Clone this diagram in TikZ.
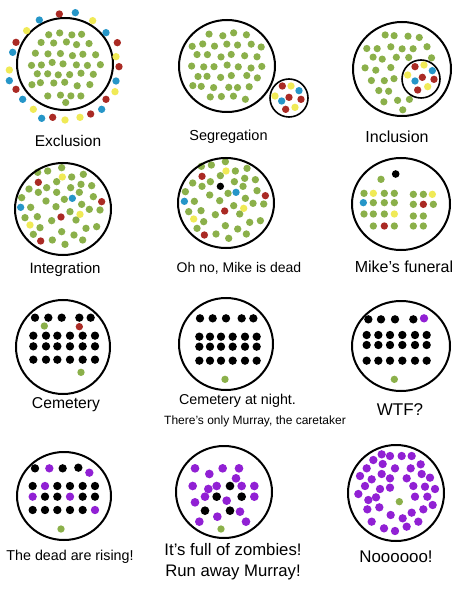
\documentclass[tikz,border=0pt]{standalone}
\usepackage{fontspec}
\setmainfont{Liberation Sans}
\definecolor{gr}{RGB}{139,176,74}
\definecolor{rd}{RGB}{170,42,36}
\definecolor{bl}{RGB}{38,150,200}
\definecolor{yl}{RGB}{240,234,86}
\definecolor{pu}{RGB}{145,32,212}
\newcommand\gfield[8]{%
 \pgfmathsetseed{#4}%
 \foreach \i in {-5,...,5}{\foreach \j in {-5,...,5}{%
   \pgfmathsetmacro\px{\i*#5+mod(\j+10,2)*#5/2+2*rand}%
   \pgfmathsetmacro\py{\j*#5*0.87+2*rand}%
   \pgfmathsetmacro\da{(\px*\px+\py*\py)/100}%
   \pgfmathsetmacro\ex{(\px+#1-#6)/10}%
   \pgfmathsetmacro\ey{(\py+#2-#7)/10}%
   \pgfmathsetmacro\db{\ex*\ex+\ey*\ey}%
   \pgfmathtruncatemacro\ok{((\da<(#3/10)*(#3/10))&&(\db>(#8/10)*(#8/10)))?1:0}%
   \ifnum\ok=1 \fill[gr] (#1+\px,#2+\py) circle (3.6);\fi
 }}}
\newcommand\integdots{%
 \foreach \x/\y in {185/38,143/48,113/52,215/66,250/58,170/80,243/88,87/102,140/98,212/98,275/92,115/112,238/112,65/128,138/138,193/133,280/125,245/148,92/157,168/155,210/170,268/163,300/165,75/188,112/185,155/197,228/195,120/218,258/220,290/215,100/238,185/230,222/240,157/255,195/268,248/255}
   \fill[gr] (\x,\y) circle (11);
 \foreach \x/\y in {115/82,305/140,183/186,122/258} \fill[rd] (\x,\y) circle (11);
 \foreach \x/\y in {217/130,62/157} \fill[bl] (\x,\y) circle (11);
 \foreach \x/\y in {187/66,240/178,90/210} \fill[yl] (\x,\y) circle (11);
}
\begin{document}
\begin{tikzpicture}[x=1pt,y=-1pt,
  ring/.style={draw=black,line width=2pt},
  lab/.style={inner sep=0pt,anchor=center}]
\useasboundingbox (0,0) rectangle (474,601);
\fill[white] (0,0) rectangle (474,601);

% ---------- Row 1 ----------
% Exclusion
\gfield{65}{64}{40}{11}{11.6}{0}{0}{0}
\draw[ring] (65,64) ellipse [x radius=48,y radius=46];
\begin{scope}[shift={(0,10)},scale=1/3]
 \foreach \x/\y in {178/12,352/98,357/170,318/268,272/312,158/322,48/238,48/97} \fill[rd] (\x,\y) circle (11);
 \foreach \x/\y in {226/8,318/68,348/213,305/298,125/325,68/268,28/212,38/127,118/30} \fill[bl] (\x,\y) circle (11);
 \foreach \x/\y in {278/32,348/140,345/245,240/322,195/330,100/298,28/180,80/62} \fill[yl] (\x,\y) circle (11);
\end{scope}
\node[lab,font=\fontsize{15.5}{18}\selectfont] (l1) at (68,141) {Exclusion};

% Segregation
\gfield{227}{66}{40}{23}{12}{0}{0}{0}
\draw[ring] (227,66) ellipse [x radius=48,y radius=46];
\draw[ring,line width=1.6pt] (289,98) circle (19);
\begin{scope}[shift={(165,20)},scale=1/3]
 \foreach \x/\y in {352/198,372/232,408/238,362/268} \fill[rd] (\x,\y) circle (11);
 \foreach \x/\y in {378/198,330/228,390/262} \fill[yl] (\x,\y) circle (11);
 \foreach \x/\y in {402/212,350/243} \fill[bl] (\x,\y) circle (11);
\end{scope}
\node[lab,font=\fontsize{14.5}{17}\selectfont] (l2) at (228.5,137) {Segregation};

% Inclusion
\gfield{402}{69}{41}{37}{12.3}{421}{79}{23}
\draw[ring] (402,69) ellipse [x radius=49,y radius=47];
\draw[ring,line width=1.6pt] (421,79) circle (19);
\begin{scope}[shift={(345,20)},scale=1/3]
 \foreach \x/\y in {210/140,232/172,267/178,218/210} \fill[rd] (\x,\y) circle (11);
 \foreach \x/\y in {237/135,188/165,248/200} \fill[yl] (\x,\y) circle (11);
 \foreach \x/\y in {262/152,210/183} \fill[bl] (\x,\y) circle (11);
\end{scope}
\node[lab,font=\fontsize{16}{19}\selectfont] (l3) at (397,137) {Inclusion};

% ---------- Row 2 ----------
% Integration
\begin{scope}[shift={(0,155)},scale=1/3]
 \integdots
 \fill[gr] (170,112) circle (11);
\end{scope}
\draw[ring] (63,209) ellipse [x radius=48,y radius=46];
\node[lab,font=\fontsize{15}{18}\selectfont] (l4) at (65,270) {Integration};

% Mike is dead
\begin{scope}[shift={(163.7,149)},scale=1/3]
 \integdots
 \fill[black] (170,112) circle (11);
\end{scope}
\draw[ring] (226,203) ellipse [x radius=48,y radius=45];
\node[lab,font=\fontsize{14}{17}\selectfont] (l5) at (239,268) {Oh no, Mike is dead};

% Mike's funeral
\begin{scope}[shift={(345,150)},scale=1/3]
 \foreach \x/\y in {108/88,57/130,118/130,148/130,85/158,118/158,148/158,57/192,85/192,118/192,85/228,148/228,
   205/133,235/133,205/163,265/163,205/198,235/198,205/228,235/228} \fill[gr] (\x,\y) circle (11);
 \foreach \x/\y in {85/130,148/192,262/133} \fill[yl] (\x,\y) circle (11);
 \fill[bl] (55,158) circle (11);
 \foreach \x/\y in {118/228,235/163} \fill[rd] (\x,\y) circle (11);
 \fill[black] (152,72) circle (11.5);
\end{scope}
\draw[ring] (401,204) ellipse [x radius=49,y radius=46];
\node[lab,font=\fontsize{16}{19}\selectfont] (l6) at (404,267) {Mike's funeral};

% ---------- Row 3 ----------
% Cemetery
\begin{scope}[shift={(0,285)},scale=1/3]
 \foreach \x in {105,145,185,238,272} \fill[black] (\x,98) circle (12.5);
 \foreach \y in {152,184,224} \foreach \x in {100,138,172,210,248,285} \fill[black] (\x,\y) circle (12.5);
 \foreach \x/\y in {133/123,243/262} \fill[gr] (\x,\y) circle (11);
 \fill[rd] (238,125) circle (11);
\end{scope}
\draw[ring] (63,347) ellipse [x radius=47,y radius=47];
\node[lab,font=\fontsize{15.7}{19}\selectfont] (l7) at (66,405) {Cemetery};

% Cemetery at night
\begin{scope}[shift={(160,290)},scale=1/3]
 \foreach \x in {120,158,198,245,280} \fill[black] (\x,85) circle (12.5);
 \foreach \y in {140,170,212} \foreach \x in {118,150,183,218,255,290} \fill[black] (\x,\y) circle (12.5);
 \fill[gr] (195,268) circle (11);
\end{scope}
\draw[ring] (226,344) ellipse [x radius=47,y radius=46];
\node[lab,font=\fontsize{14.3}{17}\selectfont] (l8a) at (237.5,401) {Cemetery at night.};
\node[lab,font=\fontsize{12}{14}\selectfont] (l8b) at (255,421) {There's only Murray, the caretaker};

% WTF
\begin{scope}[shift={(345,290)},scale=1/3]
 \foreach \x in {70,108,150,205} \fill[black] (\x,88) circle (12.5);
 \fill[pu] (237,85) circle (12.5);
 \foreach \y in {135,165,212} \foreach \x in {65,100,135,172,210,245} \fill[black] (\x,\y) circle (12.5);
 \fill[gr] (148,268) circle (11);
\end{scope}
\draw[ring] (401,346) ellipse [x radius=49,y radius=45];
\node[lab,font=\fontsize{17}{20}\selectfont] (l9) at (400,410) {WTF?};

% ---------- Row 4 ----------
% The dead are rising
\begin{scope}[shift={(0,420)},scale=1/3]
 \foreach \x/\y in {105/145,188/145,235/143,
   98/198,172/198,210/198,248/198,285/198,
   135/230,172/230,248/230,285/230,
   98/270,135/270,172/270,210/270,248/270} \fill[black] (\x,\y) circle (12.5);
 \foreach \x/\y in {148/145,268/158,135/198,98/230,210/230,285/270} \fill[pu] (\x,\y) circle (12.5);
 \fill[gr] (183,327) circle (11);
\end{scope}
\draw[ring] (64,496) ellipse [x radius=47,y radius=44];
\node[lab,font=\fontsize{14.3}{17}\selectfont] (l10) at (70,557) {The dead are rising!};

% Zombies
\begin{scope}[shift={(160,420)},scale=1/3]
 \foreach \x/\y in {105/145,148/162,188/145,237/145,228/175,98/198,145/207,170/198,245/198,283/198,
   135/230,200/242,283/230,105/247,172/290,240/275,118/305,258/305} \fill[pu] (\x,\y) circle (13);
 \foreach \x/\y in {210/198,170/230,245/230,135/272,210/272} \fill[black] (\x,\y) circle (13);
 \fill[gr] (183,327) circle (11);
\end{scope}
\draw[ring] (224,492) ellipse [x radius=48,y radius=46];
\node[lab,font=\fontsize{16.7}{20}\selectfont] (l11a) at (233,550) {It's full of zombies!};
\node[lab,font=\fontsize{16.7}{20}\selectfont] (l11b) at (233,572) {Run away Murray!};

% Noooooo
\begin{scope}[shift={(340,420)},scale=1/3]
 \foreach \x/\y in {125/103,150/108,185/108,215/108,100/120,128/132,165/145,212/145,242/133,80/145,
   60/168,95/178,125/162,150/175,200/175,245/162,270/173,75/198,120/207,150/203,220/198,255/200,285/207,
   55/222,85/240,108/232,225/230,262/230,82/268,118/262,152/285,188/295,215/278,250/268,278/255,
   95/305,132/325,165/333,200/320,235/305} \fill[pu] (\x,\y) circle (12.5);
 \fill[gr] (178,245) circle (11);
\end{scope}
\draw[ring] (396,493) ellipse [x radius=48,y radius=48];
\node[lab,font=\fontsize{16.9}{20}\selectfont] (l12) at (396,557) {Noooooo!};
\end{tikzpicture}
\end{document}
